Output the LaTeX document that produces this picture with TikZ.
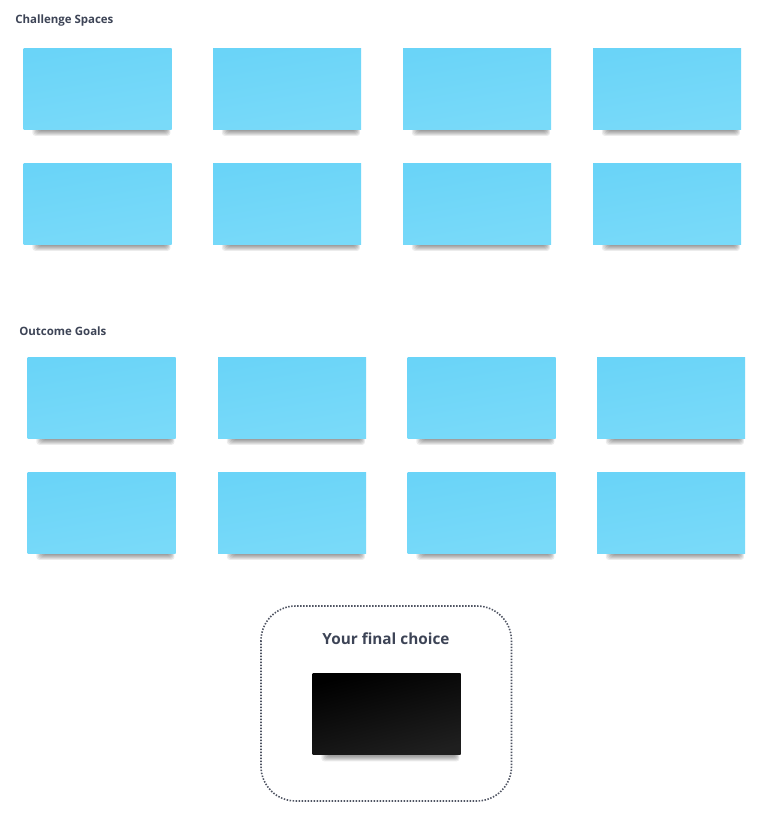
\documentclass[tikz,border=0pt]{standalone}
\usepackage{fontspec}
\setmainfont{Open Sans}
\usetikzlibrary{calc}
\pgfdeclarelayer{bg}
\pgfsetlayers{bg,main}
\definecolor{titlecol}{HTML}{3D4456}
\definecolor{notetop}{HTML}{6AD4F8}
\definecolor{notebot}{HTML}{79DAF9}
\definecolor{dotcol}{HTML}{4F5462}
\tikzset{
  notebox/.style={draw=none, minimum width=111pt, minimum height=60.75pt, inner sep=0pt,
    top color=notetop, bottom color=notebot, shading angle=10},
  blacknote/.style={notebox, top color=black, bottom color=black!88!white, shading angle=15},
  shadowlayer/.style={fill=black, fill opacity=0.075, rounded corners=2pt},
  grouptitle/.style={anchor=base west, inner sep=0pt, text=titlecol, font=\bfseries\fontsize{8.6pt}{10pt}\selectfont},
  choicetitle/.style={anchor=base, inner sep=0pt, text=titlecol, font=\bfseries\fontsize{11.5pt}{13pt}\selectfont},
  choiceframe/.style={draw=dotcol, line width=1.2pt, dash pattern=on 1.1pt off 1.15pt, rounded corners=26pt}
}
\begin{document}
\begin{tikzpicture}[x=0.75pt,y=-0.75pt]
\useasboundingbox (0,0) rectangle (768,825);
\begin{pgfonlayer}{bg}
\fill[white] (0,0) rectangle (768,825);
\end{pgfonlayer}
% titles
\node[grouptitle] (t1) at (15,23) {Challenge Spaces};
\node[grouptitle] (t2) at (19,335) {Outcome Goals};
% Challenge spaces notes
\node[notebox] (c11) at (97.5,88.5) {};
\node[notebox] (c12) at (287,88.5) {};
\node[notebox] (c13) at (477,88.5) {};
\node[notebox] (c14) at (667,88.5) {};
\node[notebox] (c21) at (97.5,203.5) {};
\node[notebox] (c22) at (287,203.5) {};
\node[notebox] (c23) at (477,203.5) {};
\node[notebox] (c24) at (667,203.5) {};
% Outcome goals notes
\node[notebox] (o11) at (101.5,397.5) {};
\node[notebox] (o12) at (292,397.5) {};
\node[notebox] (o13) at (481.5,397.5) {};
\node[notebox] (o14) at (671,397.5) {};
\node[notebox] (o21) at (101.5,512.5) {};
\node[notebox] (o22) at (292,512.5) {};
\node[notebox] (o23) at (481.5,512.5) {};
\node[notebox] (o24) at (671,512.5) {};
% final choice
\draw[choiceframe] (261,606) rectangle (511.5,801);
\node[choicetitle] (ft) at (386,644) {Your final choice};
\node[blacknote] (fc) at (386.5,714) {};
% shadows under the notes
\begin{pgfonlayer}{bg}
\foreach \n in {c11,c12,c13,c14,c21,c22,c23,c24,o11,o12,o13,o14,o21,o22,o23,o24,fc}{
  \foreach \k in {1,...,6}{
    \fill[shadowlayer] ($(\n.south west)+(8+1.2*\k,-4)$) rectangle ($(\n.south east)+(-0.5-0.8*\k,7.5-\k)$);
  }
}
\end{pgfonlayer}
\end{tikzpicture}
\end{document}
